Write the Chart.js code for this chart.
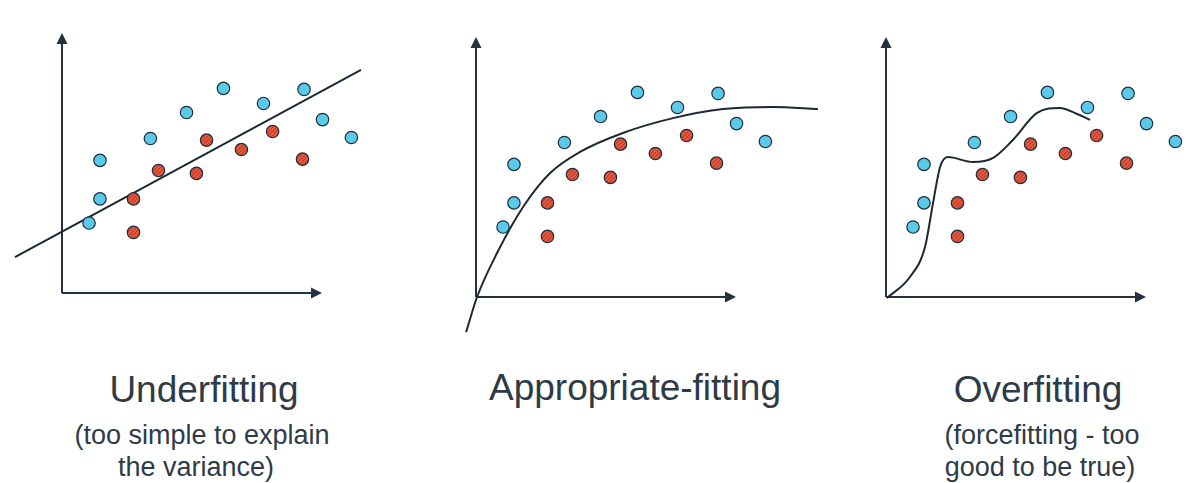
<!DOCTYPE html>
<html>
<head>
<title>Underfitting / Appropriate-fitting / Overfitting</title>
<script src="https://cdn.jsdelivr.net/npm/chart.js"></script>
<style>
    body { margin: 0; background: #fff; font-family: "Liberation Sans", Arial, sans-serif; color: #2e3b47; }
    #wrap { position: relative; width: 1200px; height: 483px; overflow: hidden; }
    canvas { position: absolute; top: 0; }
    .lbl { position: absolute; white-space: nowrap; transform: translateX(-50%); line-height: 1; }
    .big { font-size: 37px; }
    .small { font-size: 27px; }
</style>
</head>
<body>
<div id="wrap">
    <canvas id="c1" width="400" height="345" style="left:0px"></canvas>
    <canvas id="c2" width="420" height="345" style="left:420px"></canvas>
    <canvas id="c3" width="350" height="345" style="left:850px"></canvas>

    <div class="lbl big" style="left:204px; top:371px">Underfitting</div>
    <div class="lbl small" style="left:202px; top:422px">(too simple to explain</div>
    <div class="lbl small" style="left:196px; top:454px">the variance)</div>

    <div class="lbl big" style="left:635px; top:369px">Appropriate-fitting</div>

    <div class="lbl big" style="left:1038px; top:371px">Overfitting</div>
    <div class="lbl small" style="left:1042px; top:422px">(forcefitting - too</div>
    <div class="lbl small" style="left:1040px; top:454px">good to be true)</div>
</div>

<script>
    // sample points (same in all three panels), axis units
    var blueX = [1.04, 1.46, 1.46, 3.40, 4.79, 6.21, 7.75, 9.31, 10.02, 11.13];
    var blueY = [2.69, 3.62, 5.10, 5.94, 6.94, 7.87, 7.29, 7.83, 6.67, 5.98];
    var redX = [2.75, 2.75, 3.71, 5.17, 5.56, 6.90, 8.10, 9.25];
    var redY = [3.62, 2.33, 4.71, 4.60, 5.88, 5.52, 6.21, 5.15];

    // fitted curves
    var underX = [-1.81, 11.5];
    var underY = [1.38, 8.58];
    var goodX = [-0.38, 0.04, 0.81, 1.81, 2.85, 4.0, 5.65, 7.58, 9.5, 11.42, 13.15];
    var goodY = [-1.35, 0.0, 1.69, 3.46, 4.77, 5.58, 6.31, 6.88, 7.23, 7.31, 7.23];
    var overX = [0.04, 0.92, 1.5, 1.81, 2.08, 2.38, 3.35, 4.12, 4.88, 5.81, 6.69, 7.35, 7.85];
    var overY = [-0.04, 0.77, 1.92, 3.62, 5.0, 5.38, 5.19, 5.35, 6.04, 7.08, 7.27, 7.04, 6.81];

    var axisLen = 10;

    function pts(xs, ys) {
        return xs.map(function (x, i) { return { x: x, y: ys[i] }; });
    }

    function makeHatch(ctx) {
        var p = document.createElement('canvas');
        p.width = 4; p.height = 4;
        var g = p.getContext('2d');
        g.fillStyle = '#e0573f';
        g.fillRect(0, 0, 4, 4);
        g.strokeStyle = '#b23b27';
        g.lineWidth = 1;
        g.beginPath();
        g.moveTo(0, 4); g.lineTo(4, 0);
        g.moveTo(-1, 1); g.lineTo(1, -1);
        g.moveTo(3, 5); g.lineTo(5, 3);
        g.stroke();
        return ctx.createPattern(p, 'repeat');
    }

    // axes with arrow heads, drawn from the scales
    var arrowAxes = {
        id: 'arrowAxes',
        beforeDatasetsDraw: function (chart) {
            var c = chart.ctx, xs = chart.scales.x, ys = chart.scales.y;
            var x0 = xs.getPixelForValue(0), y0 = ys.getPixelForValue(0);
            var x1 = xs.getPixelForValue(axisLen), y1 = ys.getPixelForValue(axisLen);
            c.save();
            c.strokeStyle = '#233140';
            c.fillStyle = '#233140';
            c.lineWidth = 2;
            c.beginPath();
            c.moveTo(x0, y0); c.lineTo(x1 - 8, y0);
            c.moveTo(x0, y0); c.lineTo(x0, y1 + 8);
            c.stroke();
            c.beginPath();
            c.moveTo(x1, y0); c.lineTo(x1 - 11, y0 - 5.5); c.lineTo(x1 - 11, y0 + 5.5);
            c.closePath(); c.fill();
            c.beginPath();
            c.moveTo(x0, y1); c.lineTo(x0 - 5.5, y1 + 11); c.lineTo(x0 + 5.5, y1 + 11);
            c.closePath(); c.fill();
            c.restore();
        }
    };

    function drawPanel(id, ox, oy, fitX, fitY) {
        var canvas = document.getElementById(id);
        var ctx = canvas.getContext('2d');
        var unit = 26;
        var w = canvas.width, h = canvas.height;

        new Chart(ctx, {
            type: 'scatter',
            data: {
                datasets: [{
                    data: pts(blueX, blueY),
                    pointRadius: 6.2,
                    pointBackgroundColor: '#5bcaea',
                    pointBorderColor: '#1f2d3a',
                    pointBorderWidth: 1.2,
                    clip: false
                }, {
                    data: pts(redX, redY),
                    pointRadius: 6.2,
                    pointBackgroundColor: makeHatch(ctx),
                    pointBorderColor: '#1f2d3a',
                    pointBorderWidth: 1.2,
                    clip: false
                }, {
                    data: pts(fitX, fitY),
                    showLine: true,
                    pointRadius: 0,
                    borderColor: '#1c2935',
                    borderWidth: 2,
                    cubicInterpolationMode: 'monotone',
                    clip: false
                }]
            },
            options: {
                responsive: false,
                animation: false,
                events: [],
                layout: { padding: 0, autoPadding: false },
                plugins: { legend: { display: false }, tooltip: { enabled: false } },
                scales: {
                    x: { type: 'linear', display: false, min: -ox / unit, max: (w - ox) / unit },
                    y: { type: 'linear', display: false, min: -(h - oy) / unit, max: oy / unit }
                }
            },
            plugins: [arrowAxes]
        });
    }

    drawPanel('c1', 62, 293, underX, underY);
    drawPanel('c2', 56, 297, goodX, goodY);
    drawPanel('c3', 36, 297, overX, overY);
</script>
</body>
</html>
